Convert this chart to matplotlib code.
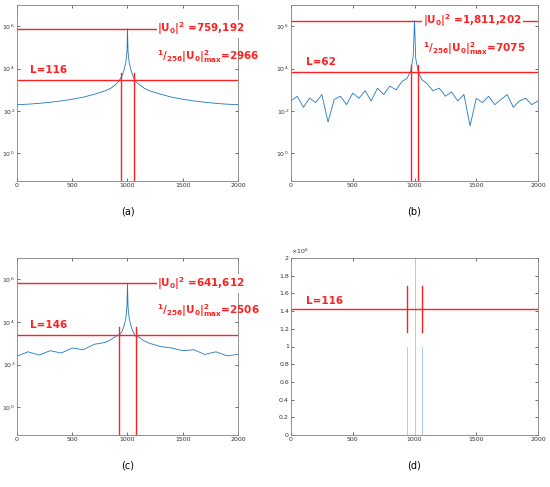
import numpy as np
import matplotlib.pyplot as plt

# spectrum samples (index, power)
x_a = [0, 100, 200, 300, 400, 500, 600, 700, 800, 850, 900, 930, 950, 970, 985, 995, 1000,
       1005, 1015, 1030, 1050, 1070, 1100, 1150, 1200, 1300, 1400, 1500, 1600, 1700, 1800, 1900, 2000]
y_a = [200, 210, 230, 260, 300, 360, 450, 620, 900, 1200, 1900, 3000, 4500, 9000, 20000, 60000, 759192,
       60000, 20000, 9000, 4500, 2500, 1900, 1200, 900, 620, 450, 360, 300, 260, 230, 210, 200]

x_b = [0, 50, 100, 150, 200, 250, 300, 350, 400, 450, 500, 550, 600, 650, 700, 750, 800, 850, 900, 940,
       970, 990, 1000, 1010, 1030, 1060, 1100, 1150, 1200, 1250, 1300, 1350, 1400, 1450, 1500, 1550,
       1600, 1650, 1700, 1750, 1800, 1850, 1900, 1950, 2000]
y_b = [300, 500, 150, 400, 250, 600, 30, 350, 500, 200, 700, 400, 900, 300, 1200, 600, 1500, 1000, 2500, 3500,
       8000, 40000, 1811202, 30000, 7000, 3000, 2000, 900, 1200, 500, 800, 300, 600, 20, 400, 250,
       500, 200, 350, 600, 150, 300, 400, 200, 300]

x_c = [0, 100, 200, 300, 400, 500, 600, 700, 800, 850, 900, 930, 950, 970, 985, 995, 1000,
       1005, 1015, 1030, 1050, 1070, 1100, 1150, 1200, 1300, 1400, 1500, 1600, 1700, 1800, 1900, 2000]
y_c = [250, 400, 280, 450, 350, 600, 500, 900, 1100, 1500, 2200, 2600, 3500, 7000, 15000, 50000, 641612,
       50000, 15000, 7000, 3500, 2200, 2000, 1300, 1000, 700, 600, 450, 500, 300, 400, 260, 300]

x_d = [0, 940, 940, 940, 1000, 1000, 1000, 1060, 1060, 1060, 2000]
y_d = [0, 0, 1.0e6, 0, 0, 2.0e6, 0, 0, 1.0e6, 0, 0]

panels = [
    dict(x=x_a, y=y_a, top=759192, top_txt="759,192", thr=2966, L=116, tx=1270),
    dict(x=x_b, y=y_b, top=1811202, top_txt="1,811,202", thr=7075, L=62, tx=1070),
    dict(x=x_c, y=y_c, top=641612, top_txt="641,612", thr=2506, L=146, tx=1270),
]

RED = '#ff2020'
BLUE = '#1f77c4'
GRAY = '#808080'

fig = plt.figure(figsize=(5.5, 4.87), dpi=100)
boxes = [(17, 5, 238, 181), (291, 5, 538, 181), (17, 258, 238, 435), (291, 258, 538, 435)]
axes = []
for (l, t, r, b) in boxes:
    axes.append(fig.add_axes([l / 550, 1 - b / 487, (r - l) / 550, (b - t) / 487]))


def style(ax):
    for s in ax.spines.values():
        s.set_color(GRAY)
        s.set_linewidth(0.6)
    ax.tick_params(labelsize=4.5, colors='#333333', length=2, width=0.5, direction='in',
                   top=True, right=True, pad=1.5)
    ax.set_xlim(0, 2000)
    ax.set_xticks([0, 500, 1000, 1500, 2000])


for ax, p in zip(axes[:3], panels):
    ax.semilogy(p['x'], p['y'], color=BLUE, lw=0.6)
    ax.set_ylim(10 ** -1.3, 10 ** 7)
    ax.set_yticks([1, 1e2, 1e4, 1e6])
    ax.minorticks_off()
    style(ax)
    ax.axhline(p['top'], color=RED, lw=1.0)
    ax.axhline(p['thr'], color=RED, lw=1.0)
    half = p['L'] / 2
    for xv in (1000 - half, 1000 + half):
        ax.plot([xv, xv], [10 ** -1.3, p['thr'] * 2.2], color=RED, lw=1.0)
    ax.text(p['tx'], p['top'], r"$\mathbf{|U_0|^2}$ =" + p['top_txt'], color=RED, fontsize=7.5,
            fontweight='bold', va='center', ha='left',
            bbox=dict(facecolor='white', edgecolor='none', pad=0.5))
    ax.text(p['tx'], p['top'] / 8, r"$\mathbf{^1/_{256}|U_0|^2_{max}}$=" + str(p['thr']), color=RED,
            fontsize=7.5, fontweight='bold', va='top', ha='left')
    ax.text(120, p['thr'] * 1.6, "L=%d" % p['L'], color=RED, fontsize=7.5, fontweight='bold',
            va='bottom', ha='left')

ax = axes[3]
ax.plot(x_d, y_d, color='#a8d0ec', lw=0.7)
style(ax)
ax.set_ylim(0, 2e6)
ax.set_yticks(np.arange(0, 2.01e6, 0.2e6))
ax.set_yticklabels(['0', '0.2', '0.4', '0.6', '0.8', '1', '1.2', '1.4', '1.6', '1.8', '2'])
ax.text(0, 1.01, r'$\times10^6$', transform=ax.transAxes, fontsize=4.5, color='#333333', va='bottom')
ax.axhline(1.42e6, color=RED, lw=1.0)
for xv in (942, 1058):
    ax.plot([xv, xv], [1.16e6, 1.68e6], color=RED, lw=1.0)
ax.text(120, 1.46e6, "L=116", color=RED, fontsize=7.5, fontweight='bold', va='bottom', ha='left')

for lab, (l, t, r, b) in zip(["(a)", "(b)", "(c)", "(d)"], boxes):
    fig.text((l + r) / 2 / 550, 1 - (b + 31) / 487, lab, fontsize=7, ha='center', va='center')

fig.savefig("out.png", dpi=100)
